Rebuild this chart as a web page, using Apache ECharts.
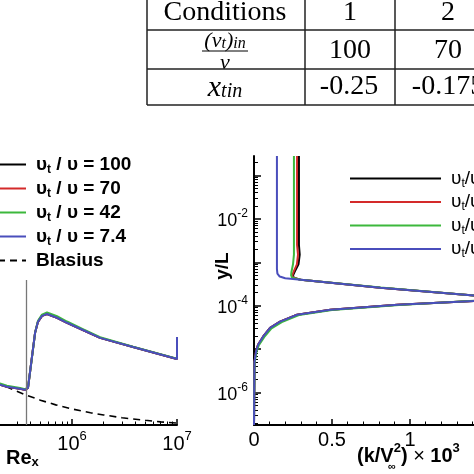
<!DOCTYPE html>
<html>
<head>
<meta charset="utf-8">
<script src="https://cdn.jsdelivr.net/npm/echarts@6/dist/echarts.min.js"></script>
<style>
html,body{margin:0;padding:0;background:#fff;}
#chart{width:474px;height:474px;}
</style>
</head>
<body>
<div id="chart"></div>
<script>
var SANS = 'Liberation Sans, Arial, sans-serif';
var SERIF = 'Liberation Serif, Times New Roman, serif';

// table (top)
var tableConditions = ['1', '2'];
var tableNuRatio = ['100', '70'];
var tableXtin = ['-0.25', '-0.175'];

// legend names / colours
var seriesNames = ['υt / υ = 100', 'υt / υ = 70', 'υt / υ = 42', 'υt / υ = 7.4'];
var seriesColors = ['#000000', '#d42a2a', '#3cb83c', '#4a4ebc'];

// left panel : Cf x 10^3 against Re_x
var reX = [1.85e5, 2.06e5, 2.4e5, 3.2e5, 3.56e5, 3.81e5, 4.16e5, 4.45e5, 4.74e5, 5.18e5, 5.78e5, 7.2e5, 8.96e5, 1.27e6, 1.85e6, 3.81e6, 1e7, 1e7];
var cf100 = [1.49, 1.43, 1.365, 1.30, 1.27, 1.33, 2.32, 3.08, 3.43, 3.62, 3.68, 3.56, 3.40, 3.17, 2.92, 2.63, 2.25, 2.95];
var cf70 = [1.49, 1.43, 1.365, 1.30, 1.27, 1.33, 2.32, 3.08, 3.43, 3.62, 3.68, 3.56, 3.40, 3.17, 2.92, 2.63, 2.25, 2.95];
var cf42 = [1.53, 1.47, 1.40, 1.33, 1.29, 1.34, 2.30, 3.08, 3.46, 3.66, 3.73, 3.61, 3.44, 3.20, 2.94, 2.64, 2.26, 2.95];
var cf74 = [1.49, 1.43, 1.365, 1.30, 1.27, 1.33, 2.32, 3.08, 3.43, 3.62, 3.68, 3.56, 3.40, 3.17, 2.92, 2.63, 2.25, 2.95];
var reBlasius = [1.85e5, 2.5e5, 3.65e5, 5e5, 7e5, 1e6, 1.5e6, 2e6, 3e6, 5e6, 7e6, 1e7];
var cfBlasius = [1.54, 1.33, 1.10, 0.94, 0.79, 0.66, 0.54, 0.47, 0.38, 0.30, 0.25, 0.21];
var reTransition = 3.65e5;
var leftLabelTicks = [1e6, 1e7];
var leftDecades = [1e5, 1e6, 1e7];

// right panel : k profiles, [k/V^2 x 10^3, y/L]
var upper100 = [[0.288, 0.28], [0.288, 2.5e-3], [0.293, 1.5e-3], [0.285, 9e-4], [0.262, 6.2e-4], [0.25, 5e-4], [0.255, 4.4e-4], [0.3, 3.95e-4]];
var upper70 = [[0.276, 0.28], [0.276, 2.5e-3], [0.282, 1.5e-3], [0.275, 9e-4], [0.255, 6.2e-4], [0.245, 5e-4], [0.252, 4.4e-4], [0.3, 3.95e-4]];
var upper42 = [[0.256, 0.28], [0.256, 1.5e-3], [0.25, 9e-4], [0.24, 6e-4], [0.238, 5e-4], [0.245, 4.4e-4], [0.3, 3.95e-4]];
var upper74 = [[0.147, 0.28], [0.147, 7e-4], [0.15, 5.5e-4], [0.165, 4.7e-4], [0.2, 4.3e-4], [0.3, 3.95e-4]];
var peakBranch = [[0.81, 2.6e-4], [1.42, 1.7e-4], [1.52, 1.45e-4], [1.42, 1.3e-4], [0.92, 1.05e-4], [0.49, 8.1e-5], [0.276, 6.2e-5], [0.167, 4.3e-5], [0.103, 3.1e-5], [0.058, 1.94e-5], [0.026, 1.27e-5], [0.013, 8.8e-6], [0.003, 5.2e-6], [0, 1.8e-7]];
var peakBranch42 = [[0.81, 2.62e-4], [1.42, 1.72e-4], [1.52, 1.46e-4], [1.42, 1.31e-4], [0.93, 1.04e-4], [0.5, 8e-5], [0.288, 6.1e-5], [0.178, 4.2e-5], [0.112, 3e-5], [0.065, 1.9e-5], [0.031, 1.24e-5], [0.016, 8.6e-6], [0.004, 5e-6], [0, 1.8e-7]];
var rightYDecades = [1e-6, 1e-5, 1e-4, 1e-3, 1e-2, 1e-1];
var rightYLabelTicks = [1e-6, 1e-4, 1e-2];

var supRich = {
    m: {fontSize: 20, fontFamily: SANS, color: '#000', lineHeight: 24, verticalAlign: 'bottom'},
    e: {fontSize: 13, fontFamily: SANS, color: '#000', lineHeight: 14, verticalAlign: 'top'}
};
var supRichY = {
    m: {fontSize: 18, fontFamily: SANS, color: '#000', lineHeight: 22, verticalAlign: 'bottom'},
    e: {fontSize: 12, fontFamily: SANS, color: '#000', lineHeight: 13, verticalAlign: 'top'}
};
function powLabel(v) {
    return '{m|10}{e|' + Math.round(Math.log10(v)) + '}';
}

function legendRich(bold, pad) {
    var w = bold ? 'bold' : 'normal';
    return {
        p: {width: pad},
        g: {fontSize: 19, fontWeight: w, fontFamily: SANS, color: '#000', lineHeight: 22, verticalAlign: 'middle'},
        s: {fontSize: 12, fontWeight: w, fontFamily: SANS, color: '#000', lineHeight: 10, verticalAlign: 'bottom'}
    };
}
function legendText(name, spaced) {
    if (name === 'Blasius') return '{p| }{g|Blasius}';
    var val = name.split('= ')[1];
    return '{p| }{g|υ}{s|t}{g|' + (spaced ? ' / υ = ' : '/υ = ') + val + '}';
}

var series = [];
var leftCf = [cf100, cf70, cf42, cf74];
var upperList = [upper100, upper70, upper42, upper74];
for (var i = 0; i < 4; i++) {
    var pts = [];
    for (var j = 0; j < reX.length; j++) pts.push([reX[j], leftCf[i][j]]);
    var s = {
        name: seriesNames[i], type: 'line', xAxisIndex: 0, yAxisIndex: 0,
        data: pts, symbol: 'none', color: seriesColors[i],
        lineStyle: {width: 2, color: seriesColors[i]}, z: 3
    };
    if (i === 0) {
        s.markLine = {
            silent: true, symbol: 'none', label: {show: false},
            lineStyle: {color: '#777', width: 1.3, type: 'solid'},
            data: [{xAxis: reTransition}]
        };
    }
    series.push(s);
}
var blasPts = [];
for (var j = 0; j < reBlasius.length; j++) blasPts.push([reBlasius[j], cfBlasius[j]]);
series.push({
    name: 'Blasius', type: 'line', xAxisIndex: 0, yAxisIndex: 0,
    data: blasPts, symbol: 'none', color: '#000',
    lineStyle: {width: 1.6, color: '#000', type: [7, 5]}, z: 2
});
for (var i = 0; i < 4; i++) {
    series.push({
        name: seriesNames[i], type: 'line', xAxisIndex: 1, yAxisIndex: 1,
        data: upperList[i].concat(i === 2 ? peakBranch42 : peakBranch),
        symbol: 'none', color: seriesColors[i],
        lineStyle: {width: 2, color: seriesColors[i]}, z: 3
    });
}

var chart = echarts.init(document.getElementById('chart'), null, {renderer: 'canvas'});
var option = {
    animation: false,
    backgroundColor: '#fff',
    grid: [
        {left: -33, top: 280, width: 210, height: 145, outerBoundsMode: 'none', containLabel: false},
        {left: 254, top: 156, width: 312, height: 269, outerBoundsMode: 'none', containLabel: false}
    ],
    xAxis: [
        {
            type: 'log', gridIndex: 0, position: 'bottom', min: 1e5, max: 1e7, logBase: 10,
            axisLine: {lineStyle: {color: '#000', width: 2}},
            axisTick: {show: true, inside: true, length: 6, lineStyle: {color: '#000', width: 1.5}, customValues: leftDecades},
            minorTick: {show: true, splitNumber: 9, length: 3.5, lineStyle: {color: '#000', width: 1}},
            axisLabel: {customValues: leftLabelTicks, formatter: powLabel, rich: supRich, margin: 5},
            splitLine: {show: false},
            minorSplitLine: {show: false}
        },
        {
            type: 'value', gridIndex: 1, position: 'bottom', min: 0, max: 2, interval: 0.5,
            axisLine: {lineStyle: {color: '#000', width: 2}},
            axisTick: {show: true, inside: true, length: 6, lineStyle: {color: '#000', width: 1.5}},
            minorTick: {show: true, splitNumber: 5, length: 3.5, lineStyle: {color: '#000', width: 1}},
            axisLabel: {fontSize: 20, fontFamily: SANS, color: '#000', margin: 5},
            splitLine: {show: false},
            minorSplitLine: {show: false}
        }
    ],
    yAxis: [
        {type: 'value', gridIndex: 0, min: 0.15, max: 4.76, show: false},
        {
            type: 'log', gridIndex: 1, position: 'left', min: 1.8e-7, max: 0.28, logBase: 10,
            axisLine: {lineStyle: {color: '#000', width: 2}},
            axisTick: {show: true, inside: true, length: 7, lineStyle: {color: '#000', width: 1.5}, customValues: rightYDecades},
            minorTick: {show: true, splitNumber: 9, length: 4, lineStyle: {color: '#000', width: 1}},
            axisLabel: {customValues: rightYLabelTicks, formatter: powLabel, rich: supRichY, margin: 6},
            splitLine: {show: false},
            minorSplitLine: {show: false}
        }
    ],
    legend: [
        {
            data: seriesNames.concat(['Blasius']), orient: 'vertical', left: -20, top: 150,
            itemWidth: 40, itemHeight: 14, itemGap: 3.5, selectedMode: false,
            itemStyle: {opacity: 0},
            formatter: function (n) { return legendText(n, true); },
            textStyle: {rich: legendRich(true, 5)}
        },
        {
            data: seriesNames, orient: 'vertical', left: 344, top: 164,
            itemWidth: 91, itemHeight: 14, itemGap: 3, selectedMode: false,
            itemStyle: {opacity: 0},
            formatter: function (n) { return legendText(n, false); },
            textStyle: {rich: legendRich(false, 5)}
        }
    ],
    graphic: [
        // table
        {type: 'line', shape: {x1: 147, y1: 0, x2: 147, y2: 105}, style: {stroke: '#222', lineWidth: 1.5}},
        {type: 'line', shape: {x1: 305, y1: 0, x2: 305, y2: 105}, style: {stroke: '#222', lineWidth: 1.5}},
        {type: 'line', shape: {x1: 395, y1: 0, x2: 395, y2: 105}, style: {stroke: '#222', lineWidth: 1.5}},
        {type: 'text', style: {text: 'Conditions', x: 225, y: 13, align: 'center', verticalAlign: 'middle', font: '28px ' + SERIF, fill: '#000'}},
        {type: 'text', style: {text: tableConditions[0], x: 350, y: 13, align: 'center', verticalAlign: 'middle', font: '28px ' + SERIF, fill: '#000'}},
        {type: 'text', style: {text: tableConditions[1], x: 448, y: 13, align: 'center', verticalAlign: 'middle', font: '28px ' + SERIF, fill: '#000'}},
        {type: 'text', style: {text: tableNuRatio[0], x: 350, y: 51, align: 'center', verticalAlign: 'middle', font: '28px ' + SERIF, fill: '#000'}},
        {type: 'text', style: {text: tableNuRatio[1], x: 448, y: 51, align: 'center', verticalAlign: 'middle', font: '28px ' + SERIF, fill: '#000'}},
        {type: 'text', style: {text: tableXtin[0], x: 349, y: 87, align: 'center', verticalAlign: 'middle', font: '28px ' + SERIF, fill: '#000'}},
        {type: 'text', style: {text: tableXtin[1], x: 448, y: 87, align: 'center', verticalAlign: 'middle', font: '28px ' + SERIF, fill: '#000'}},
        {type: 'text', style: {
            text: '{i|(ν}{s|t}{i|)}{s|in}', x: 225, y: 41, align: 'center', verticalAlign: 'middle',
            rich: {
                i: {fontSize: 22, fontStyle: 'italic', fontFamily: SERIF, fill: '#000', lineHeight: 22, verticalAlign: 'middle'},
                s: {fontSize: 16, fontStyle: 'italic', fontFamily: SERIF, fill: '#000', lineHeight: 12, verticalAlign: 'bottom'}
            }
        }},
        {type: 'line', shape: {x1: 202, y1: 51, x2: 248, y2: 51}, style: {stroke: '#000', lineWidth: 1}},
        {type: 'text', style: {text: 'ν', x: 225, y: 63, align: 'center', verticalAlign: 'middle', font: 'italic 22px ' + SERIF, fill: '#000'}},
        {type: 'text', style: {
            text: '{x|x}{s|tin}', x: 225, y: 88, align: 'center', verticalAlign: 'middle',
            rich: {
                x: {fontSize: 30, fontStyle: 'italic', fontFamily: SERIF, fill: '#000', lineHeight: 28, verticalAlign: 'middle'},
                s: {fontSize: 20, fontStyle: 'italic', fontFamily: SERIF, fill: '#000', lineHeight: 14, verticalAlign: 'bottom'}
            }
        }},
        {type: 'line', shape: {x1: 147, y1: 30, x2: 474, y2: 30}, style: {stroke: '#222', lineWidth: 1.5}},
        {type: 'line', shape: {x1: 147, y1: 69, x2: 474, y2: 69}, style: {stroke: '#222', lineWidth: 1.5}},
        {type: 'line', shape: {x1: 147, y1: 105, x2: 474, y2: 105}, style: {stroke: '#222', lineWidth: 1.5}},
        // axis titles
        {type: 'text', style: {
            text: '{b|Re}{s|x}', x: 6, y: 458, align: 'left', verticalAlign: 'middle',
            rich: {
                b: {fontSize: 20, fontWeight: 'bold', fontFamily: SANS, fill: '#000', lineHeight: 22, verticalAlign: 'middle'},
                s: {fontSize: 13, fontWeight: 'bold', fontFamily: SANS, fill: '#000', lineHeight: 10, verticalAlign: 'bottom'}
            }
        }},
        {type: 'text', rotation: Math.PI / 2, x: 223, y: 266, style: {
            text: 'y/L', x: 0, y: 0, align: 'center', verticalAlign: 'middle',
            font: 'bold 19px ' + SANS, fill: '#000'
        }},
        {type: 'text', style: {
            text: '{b|(k/V}{e|2}{b|)}{n| × }{b|10}{e|3}', x: 357, y: 454, align: 'left', verticalAlign: 'middle',
            rich: {
                b: {fontSize: 20, fontWeight: 'bold', fontFamily: SANS, fill: '#000', lineHeight: 24, verticalAlign: 'bottom'},
                n: {fontSize: 20, fontFamily: SANS, fill: '#000', lineHeight: 24, verticalAlign: 'bottom'},
                e: {fontSize: 13, fontWeight: 'bold', fontFamily: SANS, fill: '#000', lineHeight: 14, verticalAlign: 'top'}
            }
        }},
        {type: 'text', style: {text: '∞', x: 392, y: 467, align: 'center', verticalAlign: 'middle', font: 'bold 11px ' + SANS, fill: '#000'}}
    ],
    series: series
};
chart.setOption(option);
</script>
</body>
</html>
